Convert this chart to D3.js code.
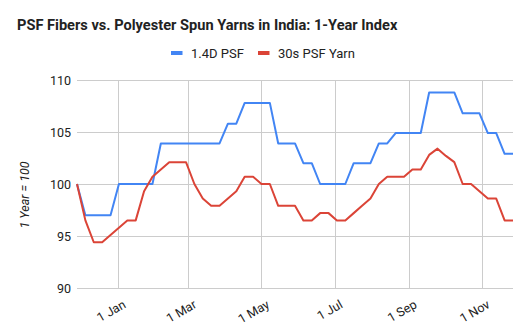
<!DOCTYPE html>
<html>
<head>
<meta charset="utf-8">
<script src="https://cdn.jsdelivr.net/npm/d3@7"></script>
<style>
  html, body { margin: 0; padding: 0; background: #fff; }
  svg { display: block; font-family: Roboto, "Noto Sans", Arial, sans-serif; }
</style>
</head>
<body>
<svg id="chart" width="530" height="333"></svg>
<script>
// ---- Data ----
const startDate = "2022-11-28";      // first weekly observation
const weekCount = 53;
const seriesNames = ["1.4D PSF", "30s PSF Yarn"];
const psfValues = [
  100, 97, 97, 97, 97, 100, 100, 100, 100, 100,
  103.9, 103.9, 103.9, 103.9, 103.9, 103.9, 103.9, 103.9, 105.8, 105.8,
  107.8, 107.8, 107.8, 107.8, 103.9, 103.9, 103.9, 102, 102, 100,
  100, 100, 100, 102, 102, 102, 103.9, 103.9, 104.9, 104.9,
  104.9, 104.9, 108.8, 108.8, 108.8, 108.8, 106.8, 106.8, 106.8, 104.9,
  104.9, 102.9, 102.9
];
const yarnValues = [
  100, 96.5, 94.4, 94.4, 95.1, 95.8, 96.5, 96.5, 99.3, 100.7,
  101.4, 102.1, 102.1, 102.1, 100, 98.6, 97.9, 97.9, 98.6, 99.3,
  100.7, 100.7, 100, 100, 97.9, 97.9, 97.9, 96.5, 96.5, 97.2,
  97.2, 96.5, 96.5, 97.2, 97.9, 98.6, 100, 100.7, 100.7, 100.7,
  101.4, 101.4, 102.8, 103.4, 102.7, 102.1, 100, 100, 99.3, 98.6,
  98.6, 96.5, 96.5
];
const yTicks = [90, 95, 100, 105, 110];
const xTickDates = ["2023-01-01", "2023-03-01", "2023-05-01", "2023-07-01", "2023-09-01", "2023-11-01"];
const xTickLabels = ["1 Jan", "1 Mar", "1 May", "1 Jul", "1 Sep", "1 Nov"];
const colors = ["#4285F4", "#DB4437"];
const titleText = "PSF Fibers vs. Polyester Spun Yarns in India: 1-Year Index";
const yTitle = "1 Year = 100";

// ---- Build ----
const parse = d3.utcParse("%Y-%m-%d");
const d0 = parse(startDate);
const dates = d3.range(weekCount).map(i => d3.utcDay.offset(d0, i * 7));

const svg = d3.select("#chart");
const m = { left: 77, right: 17, top: 80, bottom: 45 };
const W = 530, H = 333;

const x = d3.scaleUtc().domain([dates[0], dates[dates.length - 1]]).range([m.left, W - m.right]);
const y = d3.scaleLinear().domain([90, 110]).range([H - m.bottom, m.top]);

// Title
svg.append("text").attr("x", 17).attr("y", 30)
  .attr("font-size", 14.6).attr("font-weight", "bold").attr("fill", "#222")
  .text(titleText);

// Legend
const legend = [
  { name: seriesNames[0], color: colors[0], x: 171 },
  { name: seriesNames[1], color: colors[1], x: 258 }
];
legend.forEach(l => {
  svg.append("rect").attr("x", l.x).attr("y", 51).attr("width", 11.5).attr("height", 4).attr("fill", l.color);
  svg.append("text").attr("x", l.x + 20).attr("y", 57.5).attr("font-size", 13).attr("fill", "#222").text(l.name);
});

// Horizontal gridlines + y labels
const gY = svg.append("g");
gY.selectAll("line").data(yTicks).join("line")
  .attr("x1", m.left).attr("x2", W - m.right)
  .attr("y1", d => Math.round(y(d)) + 0.5).attr("y2", d => Math.round(y(d)) + 0.5)
  .attr("stroke", "#cccccc").attr("stroke-width", 1);
gY.selectAll("text").data(yTicks).join("text")
  .attr("x", 71).attr("y", d => y(d) + 4.5)
  .attr("text-anchor", "end").attr("font-size", 12.5).attr("fill", "#222")
  .text(d => d);

// Vertical gridlines + x labels
const xt = xTickDates.map(parse);
const gX = svg.append("g");
gX.selectAll("line").data(xt).join("line")
  .attr("x1", d => Math.round(x(d)) + 0.5).attr("x2", d => Math.round(x(d)) + 0.5)
  .attr("y1", m.top).attr("y2", H - m.bottom)
  .attr("stroke", "#cccccc").attr("stroke-width", 1);
gX.selectAll("text").data(xt).join("text")
  .attr("transform", d => `translate(${x(d) + 9},${H - m.bottom + 19}) rotate(-30)`)
  .attr("text-anchor", "end").attr("font-size", 12.5).attr("fill", "#222")
  .text((d, i) => xTickLabels[i]);

// Y title
svg.append("text")
  .attr("transform", `translate(29,195) rotate(-90)`)
  .attr("text-anchor", "middle").attr("font-size", 12.5).attr("font-style", "italic").attr("fill", "#222")
  .text(yTitle);

// Lines
const line = d3.line().x((d, i) => x(dates[i])).y(d => y(d));
[psfValues, yarnValues].forEach((vals, k) => {
  svg.append("path").datum(vals)
    .attr("d", line)
    .attr("fill", "none").attr("stroke", colors[k]).attr("stroke-width", 2)
    .attr("stroke-linejoin", "round");
});
</script>
</body>
</html>
